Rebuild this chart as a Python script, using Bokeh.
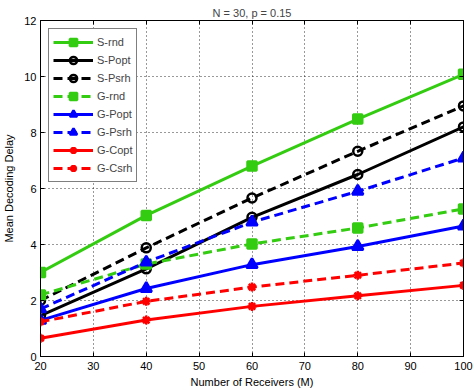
from bokeh.plotting import figure
from bokeh.models import Range1d, FixedTicker, Legend, LegendItem, LinearAxis
from bokeh.embed import file_html
from bokeh.resources import INLINE

# ---- data ----
M = [20, 40, 60, 80, 100]
s_rnd = [3.0, 5.04, 6.8, 8.48, 10.08]
s_popt = [1.46, 3.13, 4.97, 6.5, 8.2]
s_psrh = [2.0, 3.88, 5.66, 7.33, 8.95]
g_rnd = [2.2, 3.3, 4.02, 4.59, 5.27]
g_popt = [1.29, 2.43, 3.28, 3.93, 4.66]
g_psrh = [1.7, 3.37, 4.8, 5.9, 7.09]
g_copt = [0.65, 1.3, 1.79, 2.17, 2.54]
g_csrh = [1.24, 1.97, 2.48, 2.9, 3.34]

labels = ["S-rnd", "S-Popt", "S-Psrh", "G-rnd", "G-Popt", "G-Psrh", "G-Copt", "G-Csrh"]
series = [s_rnd, s_popt, s_psrh, g_rnd, g_popt, g_psrh, g_copt, g_csrh]
x_ticks = [20, 30, 40, 50, 60, 70, 80, 90, 100]
y_ticks = [0, 2, 4, 6, 8, 10, 12]

GREEN = "#33cc11"
styles = [
    dict(color=GREEN, dash="solid", marker="square", size=9, fill=GREEN),
    dict(color="black", dash="solid", marker="circle", size=9, fill=None),
    dict(color="black", dash="9 5", marker="circle", size=9, fill=None),
    dict(color=GREEN, dash="9 5", marker="square", size=9, fill=GREEN),
    dict(color="blue", dash="solid", marker="triangle", size=11, fill="blue"),
    dict(color="blue", dash="9 5", marker="triangle", size=11, fill="blue"),
    dict(color="red", dash="solid", marker="asterisk", size=9, fill=None),
    dict(color="red", dash="9 5", marker="asterisk", size=9, fill=None),
]

FONT = "Liberation Sans"

p = figure(width=474, height=390, output_backend="svg", toolbar_location=None,
           x_range=Range1d(20, 100), y_range=Range1d(0, 12),
           min_border_left=37, min_border_right=11, min_border_top=20, min_border_bottom=34)

p.title.text = "N = 30, p = 0.15"
p.title.align = "center"
p.title.vertical_align = "top"
p.title.text_line_height = 1.8
p.title.text_font = FONT
p.title.text_font_size = "11px"
p.title.text_font_style = "normal"
p.title.standoff = 0

p.xaxis.ticker = FixedTicker(ticks=x_ticks)
p.yaxis.ticker = FixedTicker(ticks=y_ticks)
p.xaxis.axis_label = "Number of Receivers (M)"
p.yaxis.axis_label = "Mean Decoding Delay"
p.xaxis.axis_label_standoff = 3
p.yaxis.axis_label_standoff = 6
p.xaxis.major_label_standoff = 5
p.yaxis.major_label_standoff = 4
for ax in (p.xaxis, p.yaxis):
    ax.axis_label_text_font = FONT
    ax.axis_label_text_font_size = "11px"
    ax.axis_label_text_font_style = "normal"
    ax.major_label_text_font = FONT
    ax.major_label_text_font_size = "11px"
    ax.major_tick_in = 4
    ax.major_tick_out = 0
    ax.minor_tick_in = 0
    ax.minor_tick_out = 0
    ax.axis_line_color = "black"
    ax.major_tick_line_color = "black"
    ax.major_label_text_color = "black"
    ax.axis_label_text_color = "black"

# mirrored ticks on top and right (no labels), as in the reference
def mirror_axis(ticks):
    return LinearAxis(ticker=FixedTicker(ticks=ticks),
                      major_label_overrides={t: "" for t in ticks},
                      major_label_text_font_size="11px",
                      major_tick_in=4, major_tick_out=0, minor_tick_in=0, minor_tick_out=0,
                      major_label_standoff=0, axis_line_color="black")

p.add_layout(mirror_axis(x_ticks), "above")
p.add_layout(mirror_axis(y_ticks), "right")

p.grid.grid_line_color = "black"
p.grid.grid_line_dash = "1 3"
p.grid.grid_line_alpha = 0.8
p.outline_line_color = "black"
p.outline_line_alpha = 1
p.background_fill_color = "white"
p.border_fill_color = "white"

items = []
for lab, ys, st in zip(labels, series, styles):
    r1 = p.line(M, ys, line_color=st["color"], line_width=3, line_dash=st["dash"])
    r2 = p.scatter(M, ys, marker=st["marker"], size=st["size"], line_color=st["color"],
                   line_width=2.5, fill_color=st["fill"] if st["fill"] else "white",
                   fill_alpha=1 if st["fill"] else 0.0)
    items.append(LegendItem(label=lab, renderers=[r1, r2]))

legend = Legend(items=items, location="top_left")
legend.label_text_font = FONT
legend.label_text_font_size = "11px"
legend.glyph_width = 40
legend.glyph_height = 18
legend.label_height = 18
legend.spacing = 0
legend.padding = 4
legend.margin = 8
legend.label_standoff = 4
legend.border_line_color = "black"
legend.border_line_width = 1
legend.background_fill_color = "white"
legend.background_fill_alpha = 1
p.add_layout(legend)

open("out.html", "w").write(file_html(p, INLINE))
